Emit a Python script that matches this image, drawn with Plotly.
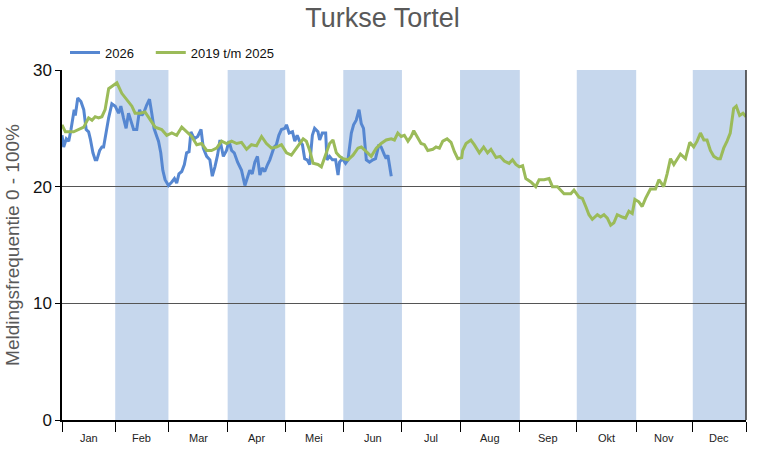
import plotly.graph_objects as go

# Month boundaries (day-of-year scale used by the chart) and labels
month_edges = [0, 28.4, 56.8, 88.4, 119.1, 150.1, 181.4, 212.4, 244.3, 274.7, 306.4, 336.6, 365]
month_labels = ["Jan", "Feb", "Mar", "Apr", "Mei", "Jun", "Jul", "Aug", "Sep", "Okt", "Nov", "Dec"]
shaded_months = [1, 3, 5, 7, 9, 11]

# 2019 t/m 2025 (average)
green_day = [0, 1.8, 6.2, 11.6, 14.2, 16.0, 17.7, 19.5, 21.3, 23.0, 24.9, 26.6, 29.3, 31.9, 34.6, 37.3,
             39.0, 41.7, 44.3, 47.0, 49.7, 53.2, 55.9, 58.6, 61.2, 63.9, 66.5, 69.2, 71.9, 74.5, 77.2,
             79.8, 82.5, 85.2, 87.8, 90.5, 93.2, 95.8, 98.5, 101.1, 103.8, 106.5, 109.1, 111.8, 114.4,
             117.1, 119.8, 122.4, 125.1, 128.7, 130.4, 132.2, 134.0, 136.6, 138.4, 140.2, 142.8, 144.6,
             146.4, 148.1, 149.9, 152.6, 155.3, 157.9, 159.7, 162.4, 165.0, 167.7, 170.3, 173.0, 175.7,
             177.4, 179.2, 181.0, 182.7, 184.6, 186.3, 187.7, 189.9, 191.6, 193.4, 195.2, 197.9, 199.6,
             201.4, 203.2, 205.5, 207.6, 209.4, 211.2, 213.3, 213.8, 215.6, 218.2, 220.0, 222.7, 225.0,
             227.1, 228.9, 231.6, 233.8, 236.0, 238.6, 240.4, 242.2, 244.0, 245.8, 247.5, 250.2, 252.8,
             254.6, 257.3, 259.9, 261.7, 264.4, 266.2, 267.9, 271.5, 273.2, 275.9, 277.7, 279.5, 281.2,
             283.0, 285.7, 287.4, 289.2, 291.0, 292.8, 294.5, 296.3, 299.0, 300.7, 302.5, 304.3, 305.7,
             307.8, 309.6, 311.4, 314.0, 316.7, 318.5, 321.1, 322.9, 324.7, 326.5, 330.0, 332.7, 335.0,
             337.1, 338.9, 340.7, 342.5, 344.2, 346.0, 347.8, 349.9, 351.3, 353.1, 354.9, 356.6, 358.4,
             359.8, 361.6, 363.4, 365]
green_val = [25.3, 24.7, 24.7, 25.1, 25.9, 25.7, 26.0, 25.9, 26.0, 26.6, 28.4, 28.6, 28.9, 28.0, 27.4, 26.9,
             26.3, 26.3, 26.4, 25.7, 25.1, 24.9, 24.4, 24.6, 24.4, 25.1, 24.7, 24.3, 23.6, 23.7, 23.1,
             23.1, 23.3, 23.9, 23.7, 23.9, 23.7, 23.8, 23.2, 23.6, 23.5, 24.3, 23.7, 23.3, 23.4,
             23.6, 22.9, 22.7, 23.3, 24.1, 23.9, 23.1, 22.0, 21.9, 21.7, 22.6, 23.7, 24.0,
             22.9, 22.6, 22.4, 22.3, 22.7, 23.3, 23.4, 23.0, 22.6, 23.3, 23.7, 24.0, 24.1,
             24.0, 24.6, 24.3, 24.4, 23.9, 24.3, 24.8, 24.1, 23.7, 23.6, 23.1, 23.2, 23.4,
             23.3, 23.9, 24.1, 23.8, 23.0, 22.4, 22.5, 23.1, 23.7, 24.0, 23.6, 22.9, 23.4,
             22.9, 23.2, 22.5, 22.6, 22.2, 22.0, 22.3, 21.9, 21.7, 21.8, 20.7, 20.4, 20.0,
             20.6, 20.6, 20.7, 20.0, 20.0, 19.7, 19.4, 19.4, 19.7, 19.1, 19.0, 18.3, 17.6,
             17.2, 17.6, 17.4, 17.6, 17.3, 16.7, 16.9, 17.6, 17.4, 17.3, 17.9, 17.7, 18.9,
             18.7, 18.3, 19.0, 19.8, 19.8, 20.6, 20.0, 21.1, 22.4, 21.9, 22.8, 22.4, 23.8,
             23.4, 23.9, 24.6, 24.0, 24.0, 23.1, 22.6, 22.4, 22.4, 23.3, 23.9, 24.6, 26.7,
             26.9, 26.1, 26.3, 26.0]

# 2026
blue_day = [0, 0.9, 2.3, 3.6, 4.8, 5.9, 6.5, 7.1, 8.4, 10.1, 11.6, 12.9, 14.2, 15.1, 16.5, 17.7, 18.6,
            20.1, 21.3, 22.2, 23.6, 24.9, 26.6, 28.4, 30.2, 31.4, 32.8, 34.2, 35.5, 36.7, 38.2, 39.9,
            41.4, 42.6, 43.8, 45.2, 46.7, 47.9, 49.1, 50.6, 51.5, 52.7, 53.8, 55.0, 56.8, 58.6, 60.0,
            61.2, 62.4, 63.9, 65.3, 66.5, 67.8, 68.8, 70.6, 72.4, 74.2, 75.4, 77.2, 78.9, 80.2, 81.6,
            83.0, 84.3, 86.1, 87.8, 89.1, 90.5, 91.9, 93.7, 95.8, 97.6, 99.0, 100.2, 101.5, 102.9,
            104.3, 105.6, 106.8, 108.2, 109.7, 110.9, 113.2, 114.4, 115.7, 117.1, 118.9, 119.8, 121.2,
            123.0, 124.2, 125.5, 126.8, 128.3, 129.5, 130.8, 132.2, 133.6, 134.8, 136.6, 137.5, 138.9,
            140.7, 141.4, 142.8, 144.3, 146.0, 147.3, 148.1, 149.6, 151.3, 152.6, 154.4, 155.6, 157.0,
            158.5, 159.7, 160.9, 162.4, 164.1, 165.9, 167.3, 169.1, 170.3, 172.1, 173.0, 173.9, 175.7]
blue_val = [24.4, 23.4, 24.1, 23.9, 24.9, 26.0, 26.6, 26.1, 27.6, 27.3, 26.6, 24.9, 24.7, 24.1, 22.9, 22.3, 22.3,
            23.1, 23.4, 23.4, 24.7, 25.9, 27.1, 26.9, 26.3, 26.9, 25.9, 25.0, 26.3, 25.7, 24.9, 24.9,
            26.6, 26.1, 26.4, 27.0, 27.5, 26.3, 25.0, 24.3, 23.9, 22.9, 21.4, 20.6, 20.1, 20.4, 20.7,
            20.3, 21.1, 21.3, 21.9, 22.9, 23.0, 24.7, 24.1, 24.3, 24.9, 23.3, 22.6, 22.3, 20.9, 21.7,
            22.7, 24.0, 22.6, 23.1, 23.9, 23.1, 22.9, 22.1, 21.4, 20.1, 20.9, 21.4, 21.1, 22.1,
            22.6, 21.0, 21.6, 21.3, 21.9, 22.3, 23.4, 23.6, 24.4, 24.9, 25.0, 25.3, 24.6,
            24.7, 23.9, 24.4, 23.9, 23.6, 22.4, 22.3, 21.9, 24.4, 25.0, 24.7, 24.0, 24.6,
            24.6, 22.3, 22.6, 22.3, 22.3, 21.0, 22.1, 22.4, 22.0, 22.3, 24.6, 25.3, 25.7,
            26.6, 25.4, 25.0, 22.3, 22.1, 22.3, 22.4, 23.6, 23.4, 22.7, 22.4, 22.7, 20.9]

y_ticks = [0, 10, 20, 30]

BLUE = "#5687d1"
GREEN = "#9bbb59"
BAND = "#c6d7ed"
FONT = "Liberation Sans, Arial, sans-serif"

fig = go.Figure()
fig.add_trace(go.Scatter(x=blue_day, y=blue_val, mode="lines", name="2026",
                         line=dict(color=BLUE, width=3), legend="legend"))
fig.add_trace(go.Scatter(x=green_day, y=green_val, mode="lines", name="2019 t/m 2025",
                         line=dict(color=GREEN, width=3), legend="legend2"))

for i in shaded_months:
    fig.add_shape(type="rect", xref="x", yref="paper", x0=month_edges[i], x1=month_edges[i + 1],
                  y0=0, y1=1, fillcolor=BAND, line_width=0, layer="below")

annotations = []
for i, lab in enumerate(month_labels):
    annotations.append(dict(x=(month_edges[i] + month_edges[i + 1]) / 2, y=0, xref="x", yref="paper",
                            text=lab, showarrow=False, yanchor="top", yshift=-10,
                            font=dict(size=11, color="#222222", family=FONT)))

legend_common = dict(orientation="h", xanchor="left", y=1.05, yanchor="middle",
                     font=dict(size=13, color="#111111", family=FONT), bgcolor="rgba(0,0,0,0)")

fig.update_layout(
    width=765, height=450,
    margin=dict(l=60, r=19, t=70, b=30),
    paper_bgcolor="white", plot_bgcolor="white",
    font=dict(family=FONT, color="#222222"),
    title=dict(text="Turkse Tortel", x=0.5, xanchor="center", y=0.96, yanchor="middle",
               font=dict(size=27, color="#595959", family=FONT)),
    showlegend=True,
    legend=dict(x=0.0044, **legend_common),
    legend2=dict(x=0.1298, **legend_common),
    annotations=annotations,
    xaxis=dict(range=[0, 365], tickmode="array", tickvals=month_edges,
               ticktext=[""] * len(month_edges), ticks="outside", ticklen=10,
               tickcolor="black", showline=True, linecolor="black", linewidth=1.5,
               mirror=False, showgrid=False, zeroline=False, fixedrange=True),
    yaxis=dict(range=[0, 30], tickmode="array", tickvals=y_ticks, ticks="outside", ticklen=5,
               tickcolor="black", showline=True, linecolor="black", linewidth=1.5,
               showgrid=True, gridcolor="#555555", gridwidth=1, zeroline=False,
               tickfont=dict(size=17, color="#111111", family=FONT),
               title=dict(text="Meldingsfrequentie 0 - 100%", standoff=8,
                          font=dict(size=19, color="#595959", family=FONT))),
)
# right border line
fig.add_shape(type="line", xref="paper", yref="paper", x0=1, x1=1, y0=0, y1=1,
              line=dict(color="#333333", width=1.5))

fig.write_html("out.html")
